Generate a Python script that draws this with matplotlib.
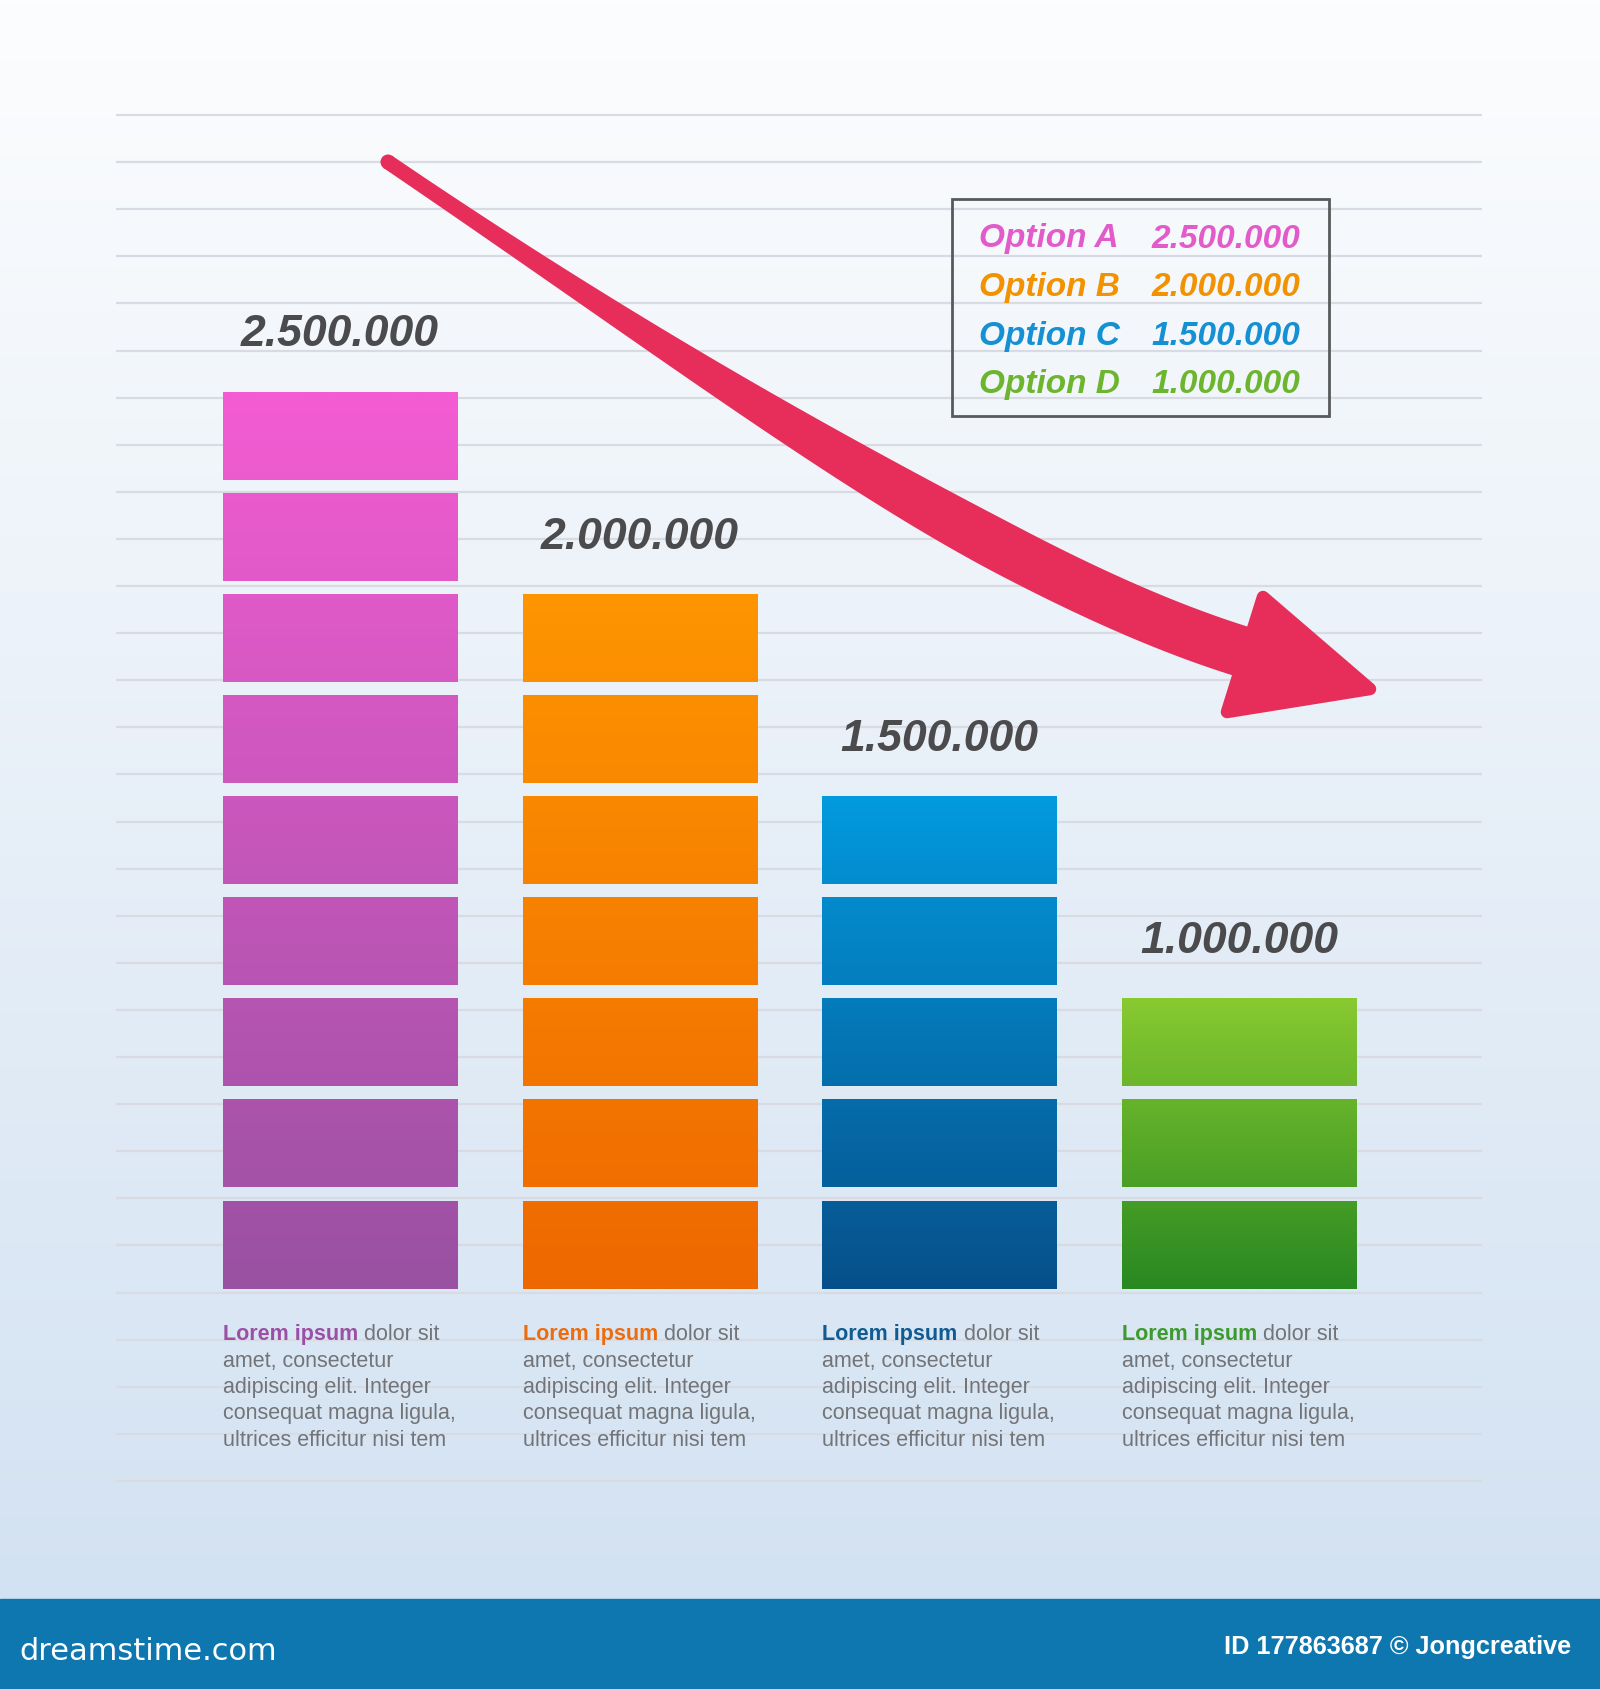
import numpy as np
import matplotlib.pyplot as plt
from matplotlib.colors import to_rgb
from matplotlib.patches import Rectangle, Polygon, Circle

plt.rcParams['font.family'] = ['Liberation Sans', 'DejaVu Sans']

# data
options = ['Option A', 'Option B', 'Option C', 'Option D']
values = [2500000, 2000000, 1500000, 1000000]
blocks = [9, 7, 5, 3]
caption_lead = 'Lorem ipsum'
caption_first = ' dolor sit'
caption_lines = ['amet, consectetur', 'adipiscing elit. Integer',
                 'consequat magna ligula,', 'ultrices efficitur nisi tem']

# colours
key_colors = ['#e35bcb', '#f39200', '#1590d2', '#6cb52e']
lead_colors = ['#9b4fa5', '#ec6c0f', '#105b92', '#3d9a2c']
top_colors = ['#f45cd3', '#fe9500', '#029ade', '#88ca30']
bottom_colors = ['#9951a2', '#ee6800', '#07508a', '#288821']
red = '#e72d5a'
text_grey = '#727478'

W, H = 1600, 1690
fig = plt.figure(figsize=(16, 16.9), dpi=100)

# background layer in pixel units
bg = fig.add_axes([0, 0, 1, 1])
bg.set_xlim(0, W)
bg.set_ylim(H, 0)
bg.axis('off')
g = np.linspace(0, 1, 256)[:, None, None]
c0, c1 = np.array(to_rgb('#fcfdfe')), np.array(to_rgb('#d3e2f2'))
bg.imshow(c0 + (c1 - c0) * g, extent=[0, W, 1600, 0], aspect='auto', zorder=0)
bg.hlines(116 + 47.1 * np.arange(30), 116, 1482, color='#d8dce2', lw=1.6, zorder=1)

# arrow
P = np.array([[388, 163], [788, 435], [1050, 595], [1250, 655]], float)
t = np.linspace(0, 1, 300)[:, None]
B = (1 - t)**3 * P[0] + 3 * (1 - t)**2 * t * P[1] + 3 * (1 - t) * t**2 * P[2] + t**3 * P[3]
D = 3 * (1 - t)**2 * (P[1] - P[0]) + 6 * (1 - t) * t * (P[2] - P[1]) + 3 * t**2 * (P[3] - P[2])
N = np.column_stack([-D[:, 1], D[:, 0]]) / np.linalg.norm(D, axis=1)[:, None]
s = np.clip(t / 0.65, 0, 1)
hw = 7.5 + 18 * (3 * s**2 - 2 * s**3)
shaft = np.vstack([B + N * hw, (B - N * hw)[::-1]])
bg.add_patch(Polygon(shaft, closed=True, fc=red, ec='none', zorder=4))
bg.add_patch(Circle(P[0], 7.5, fc=red, ec='none', zorder=4))
bg.add_patch(Polygon([[1263, 598], [1370, 690], [1227, 713]], closed=True,
                     fc=red, ec=red, lw=9, joinstyle='round', zorder=4))

# legend box
bg.add_patch(Rectangle((952, 200), 377, 217, fill=False, ec='#58595b', lw=2, zorder=3))
for i, (name, v) in enumerate(zip(options, values)):
    y = 239 + 48.6 * i
    bg.text(979, y, name, ha='left', va='center', fontsize=24, fontweight='bold',
            fontstyle='italic', color=key_colors[i], zorder=5)
    bg.text(1300, y, f'{v:,}'.replace(',', '.'), ha='right', va='center', fontsize=24,
            fontweight='bold', fontstyle='italic', color=key_colors[i], zorder=5)

# footer
bg.add_patch(Rectangle((0, 1600), W, 90, color='#0f77b0', zorder=5))
bg.text(19, 1652, 'dreamstime.com', ha='left', va='center', fontsize=22,
        color='white', family='DejaVu Sans', zorder=6)
bg.text(1571, 1647, 'ID 177863687 \u00a9 Jongcreative', ha='right', va='center',
        fontsize=18.2, fontweight='bold', color='white', zorder=6)

# chart layer
ax = fig.add_axes([0, 0, 1, 1], zorder=2)
ax.patch.set_alpha(0)
ax.axis('off')
x = np.arange(len(options))
bw = 0.781
fill = 0.869
for i in range(len(options)):
    n = blocks[i]
    ct, cb = np.array(to_rgb(top_colors[i])), np.array(to_rgb(bottom_colors[i]))
    total = n - 1 + fill
    bars = ax.bar(np.full(n, x[i]), np.full(n, fill), bottom=np.arange(n),
                  width=bw, color=top_colors[i], linewidth=0, zorder=2)
    for p in bars:
        y0 = p.get_y()
        y1 = y0 + p.get_height()
        f = np.linspace(y1, y0, 64) / total
        cols = cb + (ct - cb) * f[:, None]
        ax.imshow(cols[:, None, :], extent=[p.get_x(), p.get_x() + p.get_width(), y0, y1],
                  aspect='auto', interpolation='bilinear', zorder=3)

    ax.annotate(f'{values[i]:,}'.replace(',', '.'), (x[i], total), xytext=(0, 41.7),
                textcoords='offset points', ha='center', va='center', fontsize=32,
                fontweight='bold', fontstyle='italic', color='#4b4b4d')

    left = x[i] - bw / 2
    lead = ax.annotate(caption_lead, (left, 0), xytext=(0, -36.5), textcoords='offset points',
                       ha='left', va='baseline', fontsize=15.5, fontweight='bold',
                       color=lead_colors[i])
    ax.annotate(caption_first, (1, 0), xycoords=(lead, 'data'), xytext=(0, -36.5),
                textcoords='offset points', ha='left', va='baseline', fontsize=15.5,
                color=text_grey)
    for k, line in enumerate(caption_lines):
        ax.annotate(line, (left, 0), xytext=(0, -36.5 - 19 * (k + 1)),
                    textcoords='offset points', ha='left', va='baseline',
                    fontsize=15.5, color=text_grey)

ax.set_xlim(-1.1345, 4.2042)
ax.set_ylim(-3.961, 12.755)

fig.savefig('out.png', dpi=100)
